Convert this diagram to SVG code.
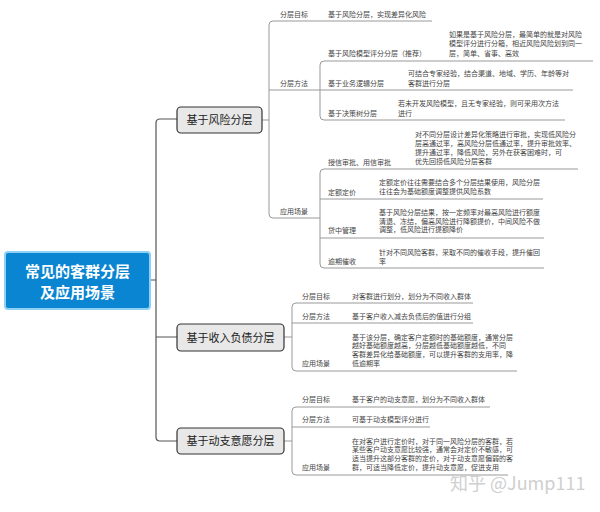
<svg xmlns="http://www.w3.org/2000/svg" width="600" height="512" viewBox="0 0 600 512">
<style>
text{font-family:"Noto Sans CJK SC","Liberation Sans",sans-serif;fill:#444}
.s{font-size:7px}
.l1{font-size:11px;fill:#222;text-anchor:middle}
.root{font-size:15px;font-weight:bold;fill:#fff;text-anchor:middle}
.ln{fill:none;stroke:#999;stroke-width:1}
.tr{fill:none;stroke:#555;stroke-width:1.2}
.n1{fill:#e8e8e8;stroke:#333;stroke-width:1.2}
</style>
<rect width="600" height="512" fill="#fff"/>
<g id="connectors">
<path class="tr" d="M150,280 H156 M177,119 H160 Q156,119 156,123 V437 Q156,441 160,441 H177 M156,337 H177"/>
<path class="ln" d="M262,120 H269 M432,21 H273 Q269,21 269,25 V214 Q269,218 273,218 H320 M269,90 H573 M593,61 H324 Q320,61 320,65 V116 Q320,120 324,120 H565"/>
<path class="ln" d="M578,169 H324 Q320,169 320,173 V264 Q320,268 324,268 H544 M320,199 H543 M320,238 H544"/>
<path class="ln" d="M284,337 H292 M473,303 H296 Q292,303 292,307 V367 Q292,371 296,371 H517 M292,323 H473"/>
<path class="ln" d="M284,441 H292 M490,407 H296 Q292,407 292,411 V471 Q292,475 296,475 H508 M292,427 H430"/>
</g>
<g id="root">
<rect x="5" y="252" width="145" height="57" rx="3" fill="#0a85d1" stroke="#8fd0f5" stroke-width="2"/>
<text class="root" x="77.5" y="276.5">常见的客群分层</text>
<text class="root" x="77.5" y="297.5">及应用场景</text>
</g>
<g id="risk">
<rect class="n1" x="177" y="107" width="85" height="26" rx="4"/>
<text class="l1" x="219.5" y="124">基于风险分层</text>
</g>
<g id="risk-goal">
<text class="s" x="280" y="16.5">分层目标</text>
<text class="s" x="328" y="16.5">基于风险分层，实现差异化风险</text>
</g>
<g id="risk-method">
<text class="s" x="280" y="85.5">分层方法</text>
<text class="s" x="328" y="55.5">基于风险模型评分分层（推荐）</text>
<text class="s" x="449" y="37">如果是基于风险分层，最简单的就是对风险</text>
<text class="s" x="449" y="46">模型评分进行分箱，相近风险风险划到同一</text>
<text class="s" x="449" y="55.5">层，简单、省事、高效</text>
<text class="s" x="328" y="85.5">基于业务逻辑分层</text>
<text class="s" x="408" y="75.5">可结合专家经验，结合渠道、地域、学历、年龄等对</text>
<text class="s" x="408" y="85.5">客群进行分层</text>
<text class="s" x="328" y="115.5">基于决策树分层</text>
<text class="s" x="398" y="105.5">若未开发风险模型，且无专家经验，则可采用次方法</text>
<text class="s" x="398" y="115.5">进行</text>
</g>
<g id="risk-scene">
<text class="s" x="280" y="213.5">应用场景</text>
<text class="s" x="328" y="164.5">授信审批、用信审批</text>
<text class="s" x="415" y="136.5">对不同分层设计差异化策略进行审批，实现低风险分</text>
<text class="s" x="415" y="145.5">层高通过率，高风险分层低通过率，提升审批效率、</text>
<text class="s" x="415" y="155">提升通过率，降低风险，另外在获客困难时，可</text>
<text class="s" x="415" y="164">优先回捞低风险分层客群</text>
<text class="s" x="328" y="194.5">定额定价</text>
<text class="s" x="379" y="184.5">定额定价往往需要结合多个分层结果使用，风险分层</text>
<text class="s" x="379" y="193.5">往往会为基础额度调整提供风险系数</text>
<text class="s" x="328" y="232.5">贷中管理</text>
<text class="s" x="379" y="214.5">基于风险分层结果，按一定频率对最高风险进行额度</text>
<text class="s" x="379" y="223.5">清退、冻结，偏高风险进行降额提价，中间风险不做</text>
<text class="s" x="379" y="232">调整，低风险进行提额降价</text>
<text class="s" x="328" y="264">逾期催收</text>
<text class="s" x="379" y="254.5">针对不同风险客群，采取不同的催收手段，提升催回</text>
<text class="s" x="379" y="263.5">率</text>
</g>
<g id="income">
<rect class="n1" x="177" y="324" width="107" height="27" rx="4"/>
<text class="l1" x="230.5" y="341.5">基于收入负债分层</text>
<text class="s" x="302" y="298.5">分层目标</text>
<text class="s" x="352" y="298.5">对客群进行划分，划分为不同收入群体</text>
<text class="s" x="302" y="318.5">分层方法</text>
<text class="s" x="352" y="318.5">基于客户收入减去负债后的值进行分组</text>
<text class="s" x="302" y="365.5">应用场景</text>
<text class="s" x="352" y="339.5">基于该分层，确定客户定额时的基础额度，通常分层</text>
<text class="s" x="352" y="348">越好基础额度越高，分层越低基础额度越低，不同</text>
<text class="s" x="352" y="356.5">客群差异化给基础额度，可以提升客群的支用率，降</text>
<text class="s" x="352" y="365.5">低逾期率</text>
</g>
<g id="drawdown">
<rect class="n1" x="177" y="428" width="107" height="26" rx="4"/>
<text class="l1" x="230.5" y="445">基于动支意愿分层</text>
<text class="s" x="302" y="401.5">分层目标</text>
<text class="s" x="352" y="401.5">基于客户的动支意愿，划分为不同收入群体</text>
<text class="s" x="302" y="421.5">分层方法</text>
<text class="s" x="352" y="421.5">可基于动支模型评分进行</text>
<text class="s" x="302" y="469.5">应用场景</text>
<text class="s" x="352" y="443.5">在对客户进行定价时，对于同一风险分层的客群，若</text>
<text class="s" x="352" y="452">某些客户动支意愿比较强，通常会对定价不敏感，可</text>
<text class="s" x="352" y="460.5">适当提升这部分客群的定价，对于动支意愿偏弱的客</text>
<text class="s" x="352" y="469.5">群，可适当降低定价，提升动支意愿，促进支用</text>
</g>
<text x="450" y="490" style="font-size:18px;fill:#cfcfcf">知乎 @Jump111</text>
</svg>
